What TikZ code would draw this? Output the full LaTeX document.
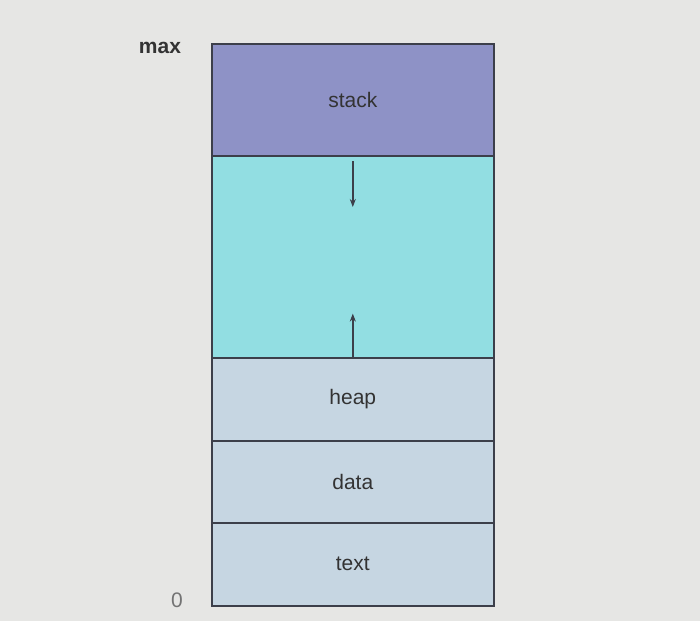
\documentclass[tikz,border=0pt]{standalone}
\usepackage{fontspec}
\usetikzlibrary{arrows.meta}
\setmainfont{Liberation Sans}
\definecolor{bg}{HTML}{E6E6E4}
\definecolor{stackc}{HTML}{8E92C6}
\definecolor{freec}{HTML}{92DEE2}
\definecolor{lowc}{HTML}{C6D6E2}
\definecolor{edge}{HTML}{3C3F4A}
\begin{document}
\begin{tikzpicture}[x=1pt,y=-1pt,
  cell/.style={draw=edge,line width=1.6pt,minimum width=282pt,inner sep=0pt,anchor=north west},
  lbl/.style={font=\fontsize{21}{22}\selectfont,text=black!80}]
\fill[bg] (0,0) rectangle (700,621);
\useasboundingbox (0,0) rectangle (700,621);
\node[cell,fill=stackc,minimum height=112pt] (stack) at (211,43) {};
\node[cell,fill=freec,minimum height=202pt] (free) at (211,155) {};
\node[cell,fill=lowc,minimum height=83pt] (heap) at (211,357) {};
\node[cell,fill=lowc,minimum height=82pt] (data) at (211,440) {};
\node[cell,fill=lowc,minimum height=83pt] (text) at (211,522) {};
\node[lbl] (ls) at (stack.center) {stack};
\node[lbl] (lh) at (heap.center) {heap};
\node[lbl] (ld) at (data.center) {data};
\node[lbl] (lt) at (text.center) {text};
\node[lbl,font=\bfseries\fontsize{21}{22}\selectfont] (max) at (160,48) {max};
\node[lbl,text=black!55] (zero) at (177,600) {0};
\coordinate (d1) at ([yshift=-6pt]free.north);
\coordinate (d2) at ([yshift=-52pt]free.north);
\coordinate (u1) at ([yshift=2pt]free.south);
\coordinate (u2) at ([yshift=45pt]free.south);
\draw[-{Stealth[length=8pt,width=6pt]},line width=2pt,edge] (d1) -- (d2);
\draw[-{Stealth[length=8pt,width=6pt]},line width=2pt,edge] (u1) -- (u2);
\end{tikzpicture}
\end{document}
